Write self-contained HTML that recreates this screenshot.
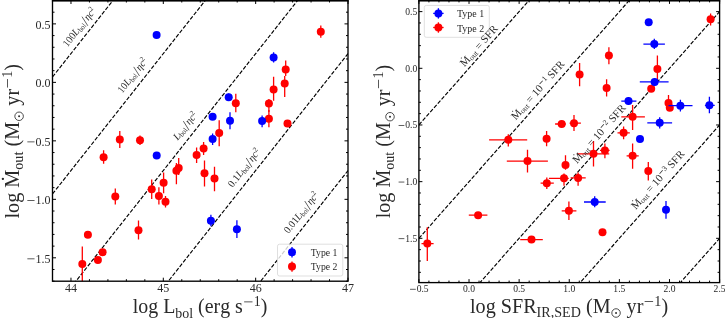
<!DOCTYPE html>
<html><head><meta charset="utf-8"><style>
html,body{margin:0;padding:0;background:#fff;}
body{width:725px;height:318px;overflow:hidden;}
svg{display:block;}
</style></head><body>
<svg style="will-change:transform" width="725" height="318" viewBox="0 0 725 318">
<rect width="725" height="318" fill="#fff"/>
<defs>
<clipPath id="cl"><rect x="52.5" y="0.5" width="295.5" height="280.7"/></clipPath>
<clipPath id="cr"><rect x="418.9" y="0.4" width="300.70000000000005" height="282.20000000000005"/></clipPath>
</defs>
<g clip-path="url(#cl)" stroke="#000" stroke-width="1.15" stroke-dasharray="4,1.7" fill="none">
<line x1="52.50" y1="76.99" x2="348.00" y2="-297.28"/>
<line x1="52.50" y1="193.95" x2="348.00" y2="-180.32"/>
<line x1="52.50" y1="310.91" x2="348.00" y2="-63.36"/>
<line x1="52.50" y1="427.87" x2="348.00" y2="53.60"/>
<line x1="52.50" y1="544.82" x2="348.00" y2="170.56"/>
</g>
<g clip-path="url(#cl)">
<line x1="320.80" y1="25.50" x2="320.80" y2="37.70" stroke="#ff0000" stroke-width="1.3"/><circle cx="320.80" cy="31.70" r="4.0" fill="#ff0000"/>
<line x1="285.70" y1="60.40" x2="285.70" y2="76.00" stroke="#ff0000" stroke-width="1.3"/><circle cx="285.70" cy="69.60" r="4.0" fill="#ff0000"/>
<line x1="284.70" y1="76.00" x2="284.70" y2="97.00" stroke="#ff0000" stroke-width="1.3"/><circle cx="284.70" cy="83.40" r="4.0" fill="#ff0000"/>
<line x1="273.60" y1="76.80" x2="273.60" y2="100.80" stroke="#ff0000" stroke-width="1.3"/><circle cx="273.60" cy="89.40" r="4.0" fill="#ff0000"/>
<line x1="268.90" y1="98.90" x2="268.90" y2="112.00" stroke="#ff0000" stroke-width="1.3"/><circle cx="268.90" cy="103.60" r="4.0" fill="#ff0000"/>
<line x1="268.90" y1="110.00" x2="268.90" y2="127.20" stroke="#ff0000" stroke-width="1.3"/><circle cx="268.90" cy="118.70" r="4.0" fill="#ff0000"/>
<circle cx="287.50" cy="123.40" r="4.0" fill="#ff0000"/>
<line x1="235.80" y1="93.80" x2="235.80" y2="112.30" stroke="#ff0000" stroke-width="1.3"/><circle cx="235.80" cy="103.20" r="4.0" fill="#ff0000"/>
<line x1="219.20" y1="120.20" x2="219.20" y2="146.20" stroke="#ff0000" stroke-width="1.3"/><circle cx="219.20" cy="133.00" r="4.0" fill="#ff0000"/>
<line x1="203.60" y1="141.90" x2="203.60" y2="155.00" stroke="#ff0000" stroke-width="1.3"/><circle cx="203.60" cy="148.50" r="4.0" fill="#ff0000"/>
<line x1="196.60" y1="147.50" x2="196.60" y2="163.00" stroke="#ff0000" stroke-width="1.3"/><circle cx="196.60" cy="155.10" r="4.0" fill="#ff0000"/>
<line x1="178.70" y1="157.90" x2="178.70" y2="175.00" stroke="#ff0000" stroke-width="1.3"/><circle cx="178.70" cy="167.90" r="4.0" fill="#ff0000"/>
<line x1="176.40" y1="163.00" x2="176.40" y2="184.30" stroke="#ff0000" stroke-width="1.3"/><circle cx="176.40" cy="170.80" r="4.0" fill="#ff0000"/>
<line x1="163.60" y1="172.50" x2="163.60" y2="193.20" stroke="#ff0000" stroke-width="1.3"/><circle cx="163.60" cy="182.80" r="4.0" fill="#ff0000"/>
<line x1="151.70" y1="179.60" x2="151.70" y2="198.90" stroke="#ff0000" stroke-width="1.3"/><circle cx="151.70" cy="189.30" r="4.0" fill="#ff0000"/>
<line x1="158.90" y1="187.20" x2="158.90" y2="204.50" stroke="#ff0000" stroke-width="1.3"/><circle cx="158.90" cy="196.00" r="4.0" fill="#ff0000"/>
<line x1="165.50" y1="196.00" x2="165.50" y2="207.40" stroke="#ff0000" stroke-width="1.3"/><circle cx="165.50" cy="201.70" r="4.0" fill="#ff0000"/>
<line x1="204.50" y1="160.40" x2="204.50" y2="186.50" stroke="#ff0000" stroke-width="1.3"/><circle cx="204.50" cy="173.30" r="4.0" fill="#ff0000"/>
<line x1="214.50" y1="166.70" x2="214.50" y2="191.20" stroke="#ff0000" stroke-width="1.3"/><circle cx="214.50" cy="178.60" r="4.0" fill="#ff0000"/>
<line x1="140.00" y1="135.50" x2="140.00" y2="144.90" stroke="#ff0000" stroke-width="1.3"/><circle cx="140.00" cy="140.30" r="4.0" fill="#ff0000"/>
<line x1="119.80" y1="130.90" x2="119.80" y2="147.90" stroke="#ff0000" stroke-width="1.3"/><circle cx="119.80" cy="139.40" r="4.0" fill="#ff0000"/>
<line x1="103.60" y1="150.20" x2="103.60" y2="163.80" stroke="#ff0000" stroke-width="1.3"/><circle cx="103.60" cy="157.20" r="4.0" fill="#ff0000"/>
<line x1="115.30" y1="188.50" x2="115.30" y2="204.50" stroke="#ff0000" stroke-width="1.3"/><circle cx="115.30" cy="196.60" r="4.0" fill="#ff0000"/>
<circle cx="87.90" cy="234.70" r="4.0" fill="#ff0000"/>
<line x1="138.50" y1="220.50" x2="138.50" y2="239.50" stroke="#ff0000" stroke-width="1.3"/><circle cx="138.50" cy="230.20" r="4.0" fill="#ff0000"/>
<circle cx="102.60" cy="252.20" r="4.0" fill="#ff0000"/>
<circle cx="97.90" cy="259.90" r="4.0" fill="#ff0000"/>
<line x1="82.30" y1="246.60" x2="82.30" y2="285.00" stroke="#ff0000" stroke-width="1.3"/><circle cx="82.30" cy="264.00" r="4.0" fill="#ff0000"/>
<circle cx="156.60" cy="35.00" r="4.0" fill="#0000ff"/>
<circle cx="156.70" cy="155.60" r="4.0" fill="#0000ff"/>
<circle cx="212.60" cy="116.80" r="4.0" fill="#0000ff"/>
<line x1="212.60" y1="133.40" x2="212.60" y2="145.10" stroke="#0000ff" stroke-width="1.3"/><circle cx="212.60" cy="139.10" r="4.0" fill="#0000ff"/>
<line x1="228.70" y1="93.40" x2="228.70" y2="101.00" stroke="#0000ff" stroke-width="1.3"/><circle cx="228.70" cy="97.20" r="4.0" fill="#0000ff"/>
<line x1="230.00" y1="112.30" x2="230.00" y2="129.20" stroke="#0000ff" stroke-width="1.3"/><circle cx="230.00" cy="120.80" r="4.0" fill="#0000ff"/>
<line x1="273.60" y1="52.30" x2="273.60" y2="62.60" stroke="#0000ff" stroke-width="1.3"/><circle cx="273.60" cy="57.40" r="4.0" fill="#0000ff"/>
<line x1="262.10" y1="115.50" x2="262.10" y2="127.20" stroke="#0000ff" stroke-width="1.3"/><circle cx="262.10" cy="121.10" r="4.0" fill="#0000ff"/>
<line x1="210.90" y1="214.70" x2="210.90" y2="226.30" stroke="#0000ff" stroke-width="1.3"/><circle cx="210.90" cy="220.80" r="4.0" fill="#0000ff"/>
<line x1="236.90" y1="220.20" x2="236.90" y2="238.00" stroke="#0000ff" stroke-width="1.3"/><circle cx="236.90" cy="229.20" r="4.0" fill="#0000ff"/>
</g>
<g clip-path="url(#cr)" stroke="#000" stroke-width="1.15" stroke-dasharray="4,1.7" fill="none">
<line x1="418.90" y1="124.97" x2="719.60" y2="-215.07"/>
<line x1="418.90" y1="238.32" x2="719.60" y2="-101.72"/>
<line x1="418.90" y1="351.68" x2="719.60" y2="11.62"/>
<line x1="418.90" y1="465.02" x2="719.60" y2="124.97"/>
<line x1="418.90" y1="578.38" x2="719.60" y2="238.32"/>
</g>
<g clip-path="url(#cr)">
<line x1="710.60" y1="13.60" x2="710.60" y2="25.50" stroke="#ff0000" stroke-width="1.3"/><circle cx="710.60" cy="19.20" r="4.0" fill="#ff0000"/>
<line x1="608.90" y1="47.20" x2="608.90" y2="64.20" stroke="#ff0000" stroke-width="1.3"/><circle cx="608.90" cy="55.60" r="4.0" fill="#ff0000"/>
<line x1="657.40" y1="55.50" x2="657.40" y2="82.50" stroke="#ff0000" stroke-width="1.3"/><circle cx="657.40" cy="68.90" r="4.0" fill="#ff0000"/>
<line x1="579.60" y1="63.00" x2="579.60" y2="86.20" stroke="#ff0000" stroke-width="1.3"/><circle cx="579.60" cy="74.60" r="4.0" fill="#ff0000"/>
<line x1="606.60" y1="79.20" x2="606.60" y2="96.60" stroke="#ff0000" stroke-width="1.3"/><circle cx="606.60" cy="88.10" r="4.0" fill="#ff0000"/>
<circle cx="651.20" cy="88.80" r="4.0" fill="#ff0000"/>
<line x1="668.50" y1="94.90" x2="668.50" y2="107.00" stroke="#ff0000" stroke-width="1.3"/><circle cx="668.50" cy="103.00" r="4.0" fill="#ff0000"/>
<circle cx="669.80" cy="107.70" r="4.0" fill="#ff0000"/>
<line x1="632.60" y1="104.90" x2="632.60" y2="130.00" stroke="#ff0000" stroke-width="1.3"/><line x1="621.30" y1="116.80" x2="644.90" y2="116.80" stroke="#ff0000" stroke-width="1.3"/><circle cx="632.60" cy="116.80" r="4.0" fill="#ff0000"/>
<line x1="555.10" y1="124.00" x2="565.80" y2="124.00" stroke="#ff0000" stroke-width="1.3"/><circle cx="561.70" cy="124.00" r="4.0" fill="#ff0000"/>
<line x1="574.00" y1="115.10" x2="574.00" y2="131.10" stroke="#ff0000" stroke-width="1.3"/><line x1="569.60" y1="123.20" x2="580.90" y2="123.20" stroke="#ff0000" stroke-width="1.3"/><circle cx="574.00" cy="123.20" r="4.0" fill="#ff0000"/>
<line x1="623.60" y1="126.60" x2="623.60" y2="139.20" stroke="#ff0000" stroke-width="1.3"/><line x1="617.50" y1="132.80" x2="629.80" y2="132.80" stroke="#ff0000" stroke-width="1.3"/><circle cx="623.60" cy="132.80" r="4.0" fill="#ff0000"/>
<line x1="546.60" y1="131.10" x2="546.60" y2="146.20" stroke="#ff0000" stroke-width="1.3"/><circle cx="546.60" cy="138.70" r="4.0" fill="#ff0000"/>
<line x1="508.30" y1="134.20" x2="508.30" y2="146.40" stroke="#ff0000" stroke-width="1.3"/><line x1="489.10" y1="139.80" x2="527.20" y2="139.80" stroke="#ff0000" stroke-width="1.3"/><circle cx="508.30" cy="139.80" r="4.0" fill="#ff0000"/>
<line x1="604.90" y1="143.50" x2="604.90" y2="158.20" stroke="#ff0000" stroke-width="1.3"/><line x1="600.00" y1="150.40" x2="609.60" y2="150.40" stroke="#ff0000" stroke-width="1.3"/><circle cx="604.90" cy="150.40" r="4.0" fill="#ff0000"/>
<line x1="593.50" y1="141.00" x2="593.50" y2="166.40" stroke="#ff0000" stroke-width="1.3"/><line x1="576.90" y1="153.80" x2="609.20" y2="153.80" stroke="#ff0000" stroke-width="1.3"/><circle cx="593.50" cy="153.80" r="4.0" fill="#ff0000"/>
<line x1="632.60" y1="143.60" x2="632.60" y2="168.70" stroke="#ff0000" stroke-width="1.3"/><line x1="626.60" y1="155.80" x2="638.70" y2="155.80" stroke="#ff0000" stroke-width="1.3"/><circle cx="632.60" cy="155.80" r="4.0" fill="#ff0000"/>
<line x1="527.50" y1="149.80" x2="527.50" y2="172.50" stroke="#ff0000" stroke-width="1.3"/><line x1="506.80" y1="161.10" x2="547.90" y2="161.10" stroke="#ff0000" stroke-width="1.3"/><circle cx="527.50" cy="161.10" r="4.0" fill="#ff0000"/>
<line x1="565.50" y1="155.30" x2="565.50" y2="169.80" stroke="#ff0000" stroke-width="1.3"/><circle cx="565.50" cy="165.10" r="4.0" fill="#ff0000"/>
<line x1="648.30" y1="162.00" x2="648.30" y2="180.40" stroke="#ff0000" stroke-width="1.3"/><circle cx="648.30" cy="171.10" r="4.0" fill="#ff0000"/>
<line x1="564.00" y1="173.60" x2="564.00" y2="185.80" stroke="#ff0000" stroke-width="1.3"/><line x1="548.90" y1="178.30" x2="568.70" y2="178.30" stroke="#ff0000" stroke-width="1.3"/><circle cx="564.00" cy="178.30" r="4.0" fill="#ff0000"/>
<line x1="578.10" y1="172.60" x2="578.10" y2="185.80" stroke="#ff0000" stroke-width="1.3"/><line x1="570.60" y1="177.90" x2="585.70" y2="177.90" stroke="#ff0000" stroke-width="1.3"/><circle cx="578.10" cy="177.90" r="4.0" fill="#ff0000"/>
<line x1="546.80" y1="177.50" x2="546.80" y2="188.90" stroke="#ff0000" stroke-width="1.3"/><line x1="540.60" y1="183.20" x2="553.80" y2="183.20" stroke="#ff0000" stroke-width="1.3"/><circle cx="546.80" cy="183.20" r="4.0" fill="#ff0000"/>
<line x1="568.90" y1="201.60" x2="568.90" y2="219.90" stroke="#ff0000" stroke-width="1.3"/><line x1="561.70" y1="210.80" x2="576.40" y2="210.80" stroke="#ff0000" stroke-width="1.3"/><circle cx="568.90" cy="210.80" r="4.0" fill="#ff0000"/>
<circle cx="602.50" cy="232.20" r="4.0" fill="#ff0000"/>
<line x1="520.20" y1="239.60" x2="542.80" y2="239.60" stroke="#ff0000" stroke-width="1.3"/><circle cx="531.50" cy="239.60" r="4.0" fill="#ff0000"/>
<line x1="468.80" y1="215.20" x2="487.40" y2="215.20" stroke="#ff0000" stroke-width="1.3"/><circle cx="478.10" cy="215.20" r="4.0" fill="#ff0000"/>
<line x1="427.30" y1="227.20" x2="427.30" y2="261.00" stroke="#ff0000" stroke-width="1.3"/><line x1="421.50" y1="243.60" x2="433.60" y2="243.60" stroke="#ff0000" stroke-width="1.3"/><circle cx="427.30" cy="243.60" r="4.0" fill="#ff0000"/>
<circle cx="648.70" cy="22.30" r="4.0" fill="#0000ff"/>
<line x1="654.30" y1="38.70" x2="654.30" y2="49.00" stroke="#0000ff" stroke-width="1.3"/><line x1="643.40" y1="44.10" x2="664.90" y2="44.10" stroke="#0000ff" stroke-width="1.3"/><circle cx="654.30" cy="44.10" r="4.0" fill="#0000ff"/>
<line x1="654.60" y1="78.00" x2="654.60" y2="86.00" stroke="#0000ff" stroke-width="1.3"/><line x1="639.80" y1="81.90" x2="668.60" y2="81.90" stroke="#0000ff" stroke-width="1.3"/><circle cx="654.60" cy="81.90" r="4.0" fill="#0000ff"/>
<line x1="628.50" y1="97.00" x2="628.50" y2="105.00" stroke="#0000ff" stroke-width="1.3"/><line x1="621.30" y1="101.10" x2="636.40" y2="101.10" stroke="#0000ff" stroke-width="1.3"/><circle cx="628.50" cy="101.10" r="4.0" fill="#0000ff"/>
<line x1="680.40" y1="99.80" x2="680.40" y2="111.60" stroke="#0000ff" stroke-width="1.3"/><line x1="668.50" y1="105.70" x2="692.50" y2="105.70" stroke="#0000ff" stroke-width="1.3"/><circle cx="680.40" cy="105.70" r="4.0" fill="#0000ff"/>
<line x1="709.40" y1="96.80" x2="709.40" y2="113.20" stroke="#0000ff" stroke-width="1.3"/><line x1="704.90" y1="105.30" x2="714.70" y2="105.30" stroke="#0000ff" stroke-width="1.3"/><circle cx="709.40" cy="105.30" r="4.0" fill="#0000ff"/>
<line x1="659.70" y1="117.30" x2="659.70" y2="128.60" stroke="#0000ff" stroke-width="1.3"/><line x1="647.30" y1="122.80" x2="672.10" y2="122.80" stroke="#0000ff" stroke-width="1.3"/><circle cx="659.70" cy="122.80" r="4.0" fill="#0000ff"/>
<circle cx="640.00" cy="138.90" r="4.0" fill="#0000ff"/>
<line x1="594.70" y1="196.30" x2="594.70" y2="207.30" stroke="#0000ff" stroke-width="1.3"/><line x1="584.00" y1="202.00" x2="605.70" y2="202.00" stroke="#0000ff" stroke-width="1.3"/><circle cx="594.70" cy="202.00" r="4.0" fill="#0000ff"/>
<line x1="666.00" y1="201.10" x2="666.00" y2="218.70" stroke="#0000ff" stroke-width="1.3"/><circle cx="666.00" cy="209.80" r="4.0" fill="#0000ff"/>
</g>
<path d="M52.50,281.20v-2.0M52.50,0.50v2.0M70.97,281.20v-3.5M70.97,0.50v3.5M89.44,281.20v-2.0M89.44,0.50v2.0M107.91,281.20v-2.0M107.91,0.50v2.0M126.37,281.20v-2.0M126.37,0.50v2.0M144.84,281.20v-2.0M144.84,0.50v2.0M163.31,281.20v-3.5M163.31,0.50v3.5M181.78,281.20v-2.0M181.78,0.50v2.0M200.25,281.20v-2.0M200.25,0.50v2.0M218.72,281.20v-2.0M218.72,0.50v2.0M237.19,281.20v-2.0M237.19,0.50v2.0M255.66,281.20v-3.5M255.66,0.50v3.5M274.12,281.20v-2.0M274.12,0.50v2.0M292.59,281.20v-2.0M292.59,0.50v2.0M311.06,281.20v-2.0M311.06,0.50v2.0M329.53,281.20v-2.0M329.53,0.50v2.0M348.00,281.20v-3.5M348.00,0.50v3.5M52.50,281.20h2.0M348.00,281.20h-2.0M52.50,269.50h2.0M348.00,269.50h-2.0M52.50,257.81h3.5M348.00,257.81h-3.5M52.50,246.11h2.0M348.00,246.11h-2.0M52.50,234.42h2.0M348.00,234.42h-2.0M52.50,222.72h2.0M348.00,222.72h-2.0M52.50,211.02h2.0M348.00,211.02h-2.0M52.50,199.33h3.5M348.00,199.33h-3.5M52.50,187.63h2.0M348.00,187.63h-2.0M52.50,175.94h2.0M348.00,175.94h-2.0M52.50,164.24h2.0M348.00,164.24h-2.0M52.50,152.55h2.0M348.00,152.55h-2.0M52.50,140.85h3.5M348.00,140.85h-3.5M52.50,129.15h2.0M348.00,129.15h-2.0M52.50,117.46h2.0M348.00,117.46h-2.0M52.50,105.76h2.0M348.00,105.76h-2.0M52.50,94.07h2.0M348.00,94.07h-2.0M52.50,82.37h3.5M348.00,82.37h-3.5M52.50,70.67h2.0M348.00,70.67h-2.0M52.50,58.98h2.0M348.00,58.98h-2.0M52.50,47.28h2.0M348.00,47.28h-2.0M52.50,35.59h2.0M348.00,35.59h-2.0M52.50,23.89h3.5M348.00,23.89h-3.5M52.50,12.20h2.0M348.00,12.20h-2.0M52.50,0.50h2.0M348.00,0.50h-2.0" stroke="#000" stroke-width="1" fill="none"/>
<path d="M418.90,282.60v-3.5M418.90,0.40v3.5M428.92,282.60v-2.0M428.92,0.40v2.0M438.95,282.60v-2.0M438.95,0.40v2.0M448.97,282.60v-2.0M448.97,0.40v2.0M458.99,282.60v-2.0M458.99,0.40v2.0M469.02,282.60v-3.5M469.02,0.40v3.5M479.04,282.60v-2.0M479.04,0.40v2.0M489.06,282.60v-2.0M489.06,0.40v2.0M499.09,282.60v-2.0M499.09,0.40v2.0M509.11,282.60v-2.0M509.11,0.40v2.0M519.13,282.60v-3.5M519.13,0.40v3.5M529.16,282.60v-2.0M529.16,0.40v2.0M539.18,282.60v-2.0M539.18,0.40v2.0M549.20,282.60v-2.0M549.20,0.40v2.0M559.23,282.60v-2.0M559.23,0.40v2.0M569.25,282.60v-3.5M569.25,0.40v3.5M579.27,282.60v-2.0M579.27,0.40v2.0M589.30,282.60v-2.0M589.30,0.40v2.0M599.32,282.60v-2.0M599.32,0.40v2.0M609.34,282.60v-2.0M609.34,0.40v2.0M619.37,282.60v-3.5M619.37,0.40v3.5M629.39,282.60v-2.0M629.39,0.40v2.0M639.41,282.60v-2.0M639.41,0.40v2.0M649.44,282.60v-2.0M649.44,0.40v2.0M659.46,282.60v-2.0M659.46,0.40v2.0M669.48,282.60v-3.5M669.48,0.40v3.5M679.51,282.60v-2.0M679.51,0.40v2.0M689.53,282.60v-2.0M689.53,0.40v2.0M699.55,282.60v-2.0M699.55,0.40v2.0M709.58,282.60v-2.0M709.58,0.40v2.0M719.60,282.60v-3.5M719.60,0.40v3.5M418.90,272.33h2.0M719.60,272.33h-2.0M418.90,261.00h2.0M719.60,261.00h-2.0M418.90,249.66h2.0M719.60,249.66h-2.0M418.90,238.32h3.5M719.60,238.32h-3.5M418.90,226.99h2.0M719.60,226.99h-2.0M418.90,215.65h2.0M719.60,215.65h-2.0M418.90,204.32h2.0M719.60,204.32h-2.0M418.90,192.98h2.0M719.60,192.98h-2.0M418.90,181.65h3.5M719.60,181.65h-3.5M418.90,170.31h2.0M719.60,170.31h-2.0M418.90,158.98h2.0M719.60,158.98h-2.0M418.90,147.64h2.0M719.60,147.64h-2.0M418.90,136.31h2.0M719.60,136.31h-2.0M418.90,124.97h3.5M719.60,124.97h-3.5M418.90,113.64h2.0M719.60,113.64h-2.0M418.90,102.30h2.0M719.60,102.30h-2.0M418.90,90.97h2.0M719.60,90.97h-2.0M418.90,79.63h2.0M719.60,79.63h-2.0M418.90,68.30h3.5M719.60,68.30h-3.5M418.90,56.96h2.0M719.60,56.96h-2.0M418.90,45.63h2.0M719.60,45.63h-2.0M418.90,34.29h2.0M719.60,34.29h-2.0M418.90,22.96h2.0M719.60,22.96h-2.0M418.90,11.62h3.5M719.60,11.62h-3.5" stroke="#000" stroke-width="1" fill="none"/>
<rect x="52.5" y="0.5" width="295.50" height="280.70" fill="none" stroke="#000" stroke-width="1.35"/>
<rect x="418.9" y="0.4" width="300.70" height="282.20" fill="none" stroke="#000" stroke-width="1.35"/>
<path d="M51.9,0.85H348.6M418.29999999999995,0.85H720.2" stroke="#000" stroke-width="1.4" fill="none"/>
<rect x="277.5" y="244.2" width="65.30000000000001" height="31.80000000000001" rx="2" ry="2" fill="#fff" fill-opacity="0.8" stroke="#d9d9d9" stroke-width="0.85"/>
<line x1="292.0" y1="247.10000000000002" x2="292.0" y2="257.5" stroke="#0000ff" stroke-width="1.3"/><circle cx="292.0" cy="252.3" r="4.0" fill="#0000ff"/>
<line x1="292.0" y1="261.40000000000003" x2="292.0" y2="271.8" stroke="#ff0000" stroke-width="1.3"/><circle cx="292.0" cy="266.6" r="4.0" fill="#ff0000"/>
<g font-family="Liberation Serif" fill="#2a2a2a" style="white-space:pre">
<g transform="translate(310.80,255.90) scale(0.9769,1) translate(0.00,0)"><text x="0.00" y="0.00" font-size="10.00">Type 1</text></g>
<g transform="translate(310.80,270.20) scale(0.9769,1) translate(0.00,0)"><text x="0.00" y="0.00" font-size="10.00">Type 2</text></g>
</g>
<rect x="424.3" y="5.4" width="65.0" height="31.9" rx="2" ry="2" fill="#fff" fill-opacity="0.8" stroke="#d9d9d9" stroke-width="0.85"/>
<line x1="438.4" y1="8.2" x2="438.4" y2="18.6" stroke="#0000ff" stroke-width="1.3"/><line x1="433.2" y1="13.4" x2="443.59999999999997" y2="13.4" stroke="#0000ff" stroke-width="1.3"/><circle cx="438.4" cy="13.4" r="4.0" fill="#0000ff"/>
<line x1="438.4" y1="22.3" x2="438.4" y2="32.7" stroke="#ff0000" stroke-width="1.3"/><line x1="433.2" y1="27.5" x2="443.59999999999997" y2="27.5" stroke="#ff0000" stroke-width="1.3"/><circle cx="438.4" cy="27.5" r="4.0" fill="#ff0000"/>
<g font-family="Liberation Serif" fill="#2a2a2a" style="white-space:pre">
<g transform="translate(456.90,17.40) scale(0.9983,1) translate(0.00,0)"><text x="0.00" y="0.00" font-size="10.00">Type 1</text></g>
<g transform="translate(456.90,31.50) scale(0.9983,1) translate(0.00,0)"><text x="0.00" y="0.00" font-size="10.00">Type 2</text></g>
</g>
<g font-family="Liberation Serif" fill="#2a2a2a" style="font-kerning:none;white-space:pre">
<g transform="translate(50.60,28.65) translate(-15.00,0)"><text x="0.00" y="0.00" font-size="12.00">0.5</text></g>
<g transform="translate(50.60,87.13) translate(-15.00,0)"><text x="0.00" y="0.00" font-size="12.00">0.0</text></g>
<g transform="translate(50.60,145.61) translate(-24.34,0)"><rect x="1.08" y="-4.09" width="7.20" height="0.75" fill="#2a2a2a"/><text x="9.34" y="0.00" font-size="12.00">0.5</text></g>
<g transform="translate(50.60,204.09) translate(-24.34,0)"><rect x="1.08" y="-4.09" width="7.20" height="0.75" fill="#2a2a2a"/><text x="9.34" y="0.00" font-size="12.00">1.0</text></g>
<g transform="translate(50.60,262.57) translate(-24.34,0)"><rect x="1.08" y="-4.09" width="7.20" height="0.75" fill="#2a2a2a"/><text x="9.34" y="0.00" font-size="12.00">1.5</text></g>
<g transform="translate(70.97,292.30) translate(-6.00,0)"><text x="0.00" y="0.00" font-size="12.00">44</text></g>
<g transform="translate(163.31,292.30) translate(-6.00,0)"><text x="0.00" y="0.00" font-size="12.00">45</text></g>
<g transform="translate(255.66,292.30) translate(-6.00,0)"><text x="0.00" y="0.00" font-size="12.00">46</text></g>
<g transform="translate(348.00,292.30) translate(-6.00,0)"><text x="0.00" y="0.00" font-size="12.00">47</text></g>
<g transform="translate(417.20,14.99) translate(-12.00,0)"><text x="0.00" y="0.00" font-size="9.60">0.5</text></g>
<g transform="translate(417.20,71.67) translate(-12.00,0)"><text x="0.00" y="0.00" font-size="9.60">0.0</text></g>
<g transform="translate(417.20,128.34) translate(-19.47,0)"><rect x="0.86" y="-3.35" width="5.76" height="0.75" fill="#2a2a2a"/><text x="7.47" y="0.00" font-size="9.60">0.5</text></g>
<g transform="translate(417.20,185.02) translate(-19.47,0)"><rect x="0.86" y="-3.35" width="5.76" height="0.75" fill="#2a2a2a"/><text x="7.47" y="0.00" font-size="9.60">1.0</text></g>
<g transform="translate(417.20,241.69) translate(-19.47,0)"><rect x="0.86" y="-3.35" width="5.76" height="0.75" fill="#2a2a2a"/><text x="7.47" y="0.00" font-size="9.60">1.5</text></g>
<g transform="translate(418.90,292.20) translate(-9.73,0)"><rect x="0.86" y="-3.35" width="5.76" height="0.75" fill="#2a2a2a"/><text x="7.47" y="0.00" font-size="9.60">0.5</text></g>
<g transform="translate(469.02,292.20) translate(-6.00,0)"><text x="0.00" y="0.00" font-size="9.60">0.0</text></g>
<g transform="translate(519.13,292.20) translate(-6.00,0)"><text x="0.00" y="0.00" font-size="9.60">0.5</text></g>
<g transform="translate(569.25,292.20) translate(-6.00,0)"><text x="0.00" y="0.00" font-size="9.60">1.0</text></g>
<g transform="translate(619.37,292.20) translate(-6.00,0)"><text x="0.00" y="0.00" font-size="9.60">1.5</text></g>
<g transform="translate(669.48,292.20) translate(-6.00,0)"><text x="0.00" y="0.00" font-size="9.60">2.0</text></g>
<g transform="translate(719.60,292.20) translate(-6.00,0)"><text x="0.00" y="0.00" font-size="9.60">2.5</text></g>
<g transform="translate(132.80,313.20) scale(0.9802,1) translate(0.00,0)"><text x="0.00" y="0.00" font-size="20.30">log L</text><text x="43.42" y="4.47" font-size="14.21">bol</text><text x="61.57" y="0.00" font-size="20.30"> (erg s</text><rect x="113.58" y="-11.70" width="8.53" height="0.78" fill="#2a2a2a"/><text x="123.36" y="-6.90" font-size="14.21">1</text><text x="130.46" y="0.00" font-size="20.30">)</text></g>
<g transform="translate(470.00,312.80) scale(0.9924,1) translate(0.00,0)"><text x="0.00" y="0.00" font-size="20.30">log SFR</text><text x="67.13" y="4.47" font-size="14.21">IR,SED</text><text x="111.74" y="0.00" font-size="20.30"> (M</text><circle cx="147.17" cy="0.20" r="4.26" fill="none" stroke="#2a2a2a" stroke-width="0.85"/><circle cx="147.17" cy="0.20" r="0.99" fill="#2a2a2a"/><text x="152.71" y="0.00" font-size="20.30"> yr</text><rect x="175.97" y="-11.70" width="8.53" height="0.78" fill="#2a2a2a"/><text x="185.75" y="-6.90" font-size="14.21">1</text><text x="192.86" y="0.00" font-size="20.30">)</text></g>
<g transform="translate(18.90,218.60) rotate(-90.000) scale(0.9968,1) translate(0.00,0)"><text x="0.00" y="0.00" font-size="20.30">log Ṁ</text><text x="49.06" y="4.47" font-size="14.21">out</text><text x="67.22" y="0.00" font-size="20.30"> (M</text><circle cx="102.65" cy="0.20" r="4.26" fill="none" stroke="#2a2a2a" stroke-width="0.85"/><circle cx="102.65" cy="0.20" r="0.99" fill="#2a2a2a"/><text x="108.19" y="0.00" font-size="20.30"> yr</text><rect x="131.46" y="-11.70" width="8.53" height="0.78" fill="#2a2a2a"/><text x="141.23" y="-6.90" font-size="14.21">1</text><text x="148.34" y="0.00" font-size="20.30">)</text></g>
<g transform="translate(389.80,218.30) rotate(-90.000) scale(0.9897,1) translate(0.00,0)"><text x="0.00" y="0.00" font-size="20.30">log Ṁ</text><text x="49.06" y="4.47" font-size="14.21">out</text><text x="67.22" y="0.00" font-size="20.30"> (M</text><circle cx="102.65" cy="0.20" r="4.26" fill="none" stroke="#2a2a2a" stroke-width="0.85"/><circle cx="102.65" cy="0.20" r="0.99" fill="#2a2a2a"/><text x="108.19" y="0.00" font-size="20.30"> yr</text><rect x="131.46" y="-11.70" width="8.53" height="0.78" fill="#2a2a2a"/><text x="141.23" y="-6.90" font-size="14.21">1</text><text x="148.34" y="0.00" font-size="20.30">)</text></g>
<g transform="translate(67.50,47.50) rotate(-51.709) scale(0.9432,1) translate(0.00,0)"><text x="0.00" y="0.00" font-size="10.40">100</text><text x="15.60" y="0.00" font-size="10.40" font-style="italic">L</text><text x="21.38" y="1.46" font-size="7.28">bol</text><line x1="31.41" y1="2.50" x2="35.16" y2="-7.70" stroke="#2a2a2a" stroke-width="0.70"/><text x="35.89" y="0.00" font-size="10.40" font-style="italic">ηc</text><text x="45.66" y="-3.54" font-size="7.28">2</text></g>
<g transform="translate(122.30,93.80) rotate(-51.709) scale(0.9410,1) translate(0.00,0)"><text x="0.00" y="0.00" font-size="10.40">10</text><text x="10.40" y="0.00" font-size="10.40" font-style="italic">L</text><text x="16.18" y="1.46" font-size="7.28">bol</text><line x1="26.21" y1="2.50" x2="29.96" y2="-7.70" stroke="#2a2a2a" stroke-width="0.70"/><text x="30.69" y="0.00" font-size="10.40" font-style="italic">ηc</text><text x="40.46" y="-3.54" font-size="7.28">2</text></g>
<g transform="translate(177.70,140.70) rotate(-51.709) scale(0.9643,1) translate(0.00,0)"><text x="0.00" y="0.00" font-size="10.40" font-style="italic">L</text><text x="5.78" y="1.46" font-size="7.28">bol</text><line x1="15.81" y1="2.50" x2="19.56" y2="-7.70" stroke="#2a2a2a" stroke-width="0.70"/><text x="20.29" y="0.00" font-size="10.40" font-style="italic">ηc</text><text x="30.06" y="-3.54" font-size="7.28">2</text></g>
<g transform="translate(232.40,187.90) rotate(-51.709) scale(0.9850,1) translate(0.00,0)"><text x="0.00" y="0.00" font-size="10.40">0.1</text><text x="13.00" y="0.00" font-size="10.40" font-style="italic">L</text><text x="18.78" y="1.46" font-size="7.28">bol</text><line x1="28.81" y1="2.50" x2="32.56" y2="-7.70" stroke="#2a2a2a" stroke-width="0.70"/><text x="33.29" y="0.00" font-size="10.40" font-style="italic">ηc</text><text x="43.06" y="-3.54" font-size="7.28">2</text></g>
<g transform="translate(288.50,234.10) rotate(-51.709) scale(0.9537,1) translate(0.00,0)"><text x="0.00" y="0.00" font-size="10.40">0.01</text><text x="18.20" y="0.00" font-size="10.40" font-style="italic">L</text><text x="23.98" y="1.46" font-size="7.28">bol</text><line x1="34.01" y1="2.50" x2="37.76" y2="-7.70" stroke="#2a2a2a" stroke-width="0.70"/><text x="38.49" y="0.00" font-size="10.40" font-style="italic">ηc</text><text x="48.26" y="-3.54" font-size="7.28">2</text></g>
<g transform="translate(464.60,67.20) rotate(-48.515) translate(0.00,0)"><text x="0.00" y="0.00" font-size="11.00">Ṁ</text><text x="9.78" y="1.54" font-size="7.70">out</text><text x="19.62" y="0.00" font-size="11.00"> = </text><text x="31.32" y="0.00" font-size="11.00">SFR</text></g>
<g transform="translate(515.70,120.40) rotate(-48.515) translate(0.00,0)"><text x="0.00" y="0.00" font-size="11.00">Ṁ</text><text x="9.78" y="1.54" font-size="7.70">out</text><text x="19.62" y="0.00" font-size="11.00"> = </text><text x="31.32" y="0.00" font-size="11.00">10</text><rect x="43.02" y="-6.50" width="4.62" height="0.75" fill="#2a2a2a"/><text x="48.31" y="-3.74" font-size="7.70">1</text><text x="52.16" y="0.00" font-size="11.00"> SFR</text></g>
<g transform="translate(576.90,164.10) rotate(-48.515) translate(0.00,0)"><text x="0.00" y="0.00" font-size="11.00">Ṁ</text><text x="9.78" y="1.54" font-size="7.70">out</text><text x="19.62" y="0.00" font-size="11.00"> = </text><text x="31.32" y="0.00" font-size="11.00">10</text><rect x="43.02" y="-6.50" width="4.62" height="0.75" fill="#2a2a2a"/><text x="48.31" y="-3.74" font-size="7.70">2</text><text x="52.16" y="0.00" font-size="11.00"> SFR</text></g>
<g transform="translate(635.70,210.10) rotate(-48.515) translate(0.00,0)"><text x="0.00" y="0.00" font-size="11.00">Ṁ</text><text x="9.78" y="1.54" font-size="7.70">out</text><text x="19.62" y="0.00" font-size="11.00"> = </text><text x="31.32" y="0.00" font-size="11.00">10</text><rect x="43.02" y="-6.50" width="4.62" height="0.75" fill="#2a2a2a"/><text x="48.31" y="-3.74" font-size="7.70">3</text><text x="52.16" y="0.00" font-size="11.00"> SFR</text></g>
</g>
</svg>
</body></html>
